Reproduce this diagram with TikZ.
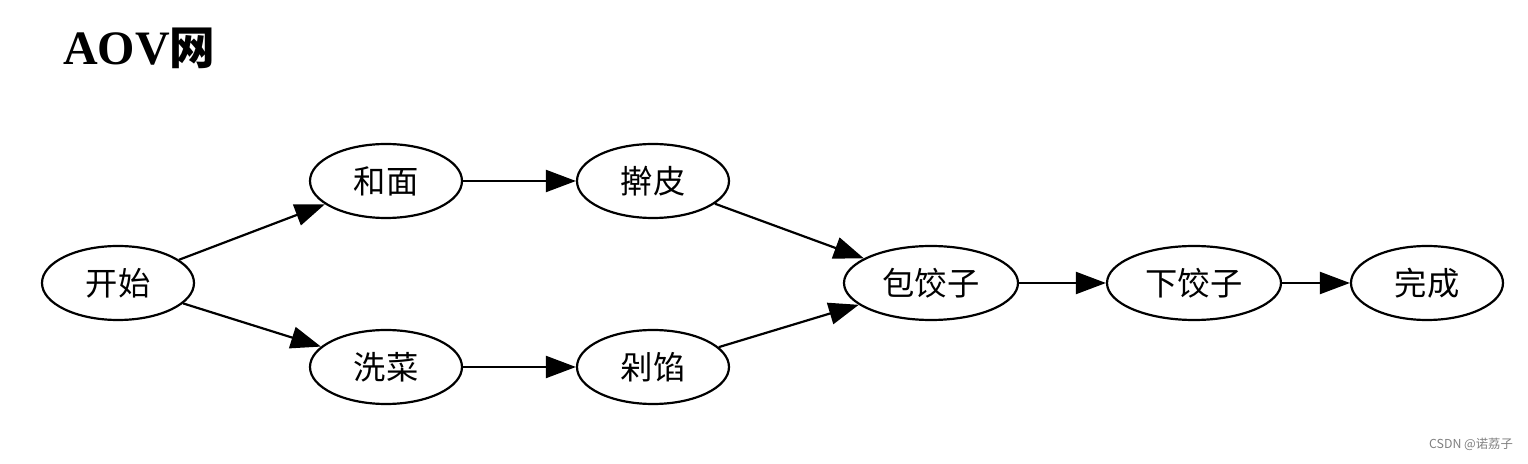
\documentclass[tikz,border=0pt]{standalone}
\usepackage{fontspec}
\setmainfont{Liberation Serif}
\newfontfamily\cjk{Noto Sans CJK SC}[Scale=0.95]
\usetikzlibrary{arrows.meta,shapes.geometric}
\begin{document}
\begin{tikzpicture}[x=0.5pt,y=-0.5pt,
  ev/.style={draw,line width=1.1pt,ellipse,minimum width=76pt,minimum height=37pt,inner sep=0pt,font=\cjk\fontsize{17pt}{17pt}\selectfont},
  evw/.style={ev,minimum width=87pt},
  arr/.style={line width=1.1pt,-{Triangle[length=15pt,width=11pt]}}]
\useasboundingbox (0,0) rectangle (1528,464);
\node[anchor=west,font=\bfseries\fontsize{24pt}{24pt}\selectfont] (t) at (56,48) {AOV{\cjk\bfseries 网}};
\node[ev] (s) at (118,283) {开始};
\node[ev] (a) at (386,181) {和面};
\node[ev] (b) at (653,181) {擀皮};
\node[ev] (c) at (386,367) {洗菜};
\node[ev] (d) at (653,367) {剁馅};
\node[evw] (e) at (931,283) {包饺子};
\node[evw] (f) at (1194,283) {下饺子};
\node[ev] (g) at (1427,283) {完成};
\draw[arr] (s) -- (a);
\draw[arr] (s) -- (c);
\draw[arr] (a) -- (b);
\draw[arr] (c) -- (d);
\draw[arr] (b) -- (e);
\draw[arr] (d) -- (e);
\draw[arr] (e) -- (f);
\draw[arr] (f) -- (g);
\node[anchor=east,text=gray,font=\cjk\fontsize{6.5pt}{7pt}\selectfont] (w) at (1520,444) {CSDN @诺荔子};
\end{tikzpicture}
\end{document}
